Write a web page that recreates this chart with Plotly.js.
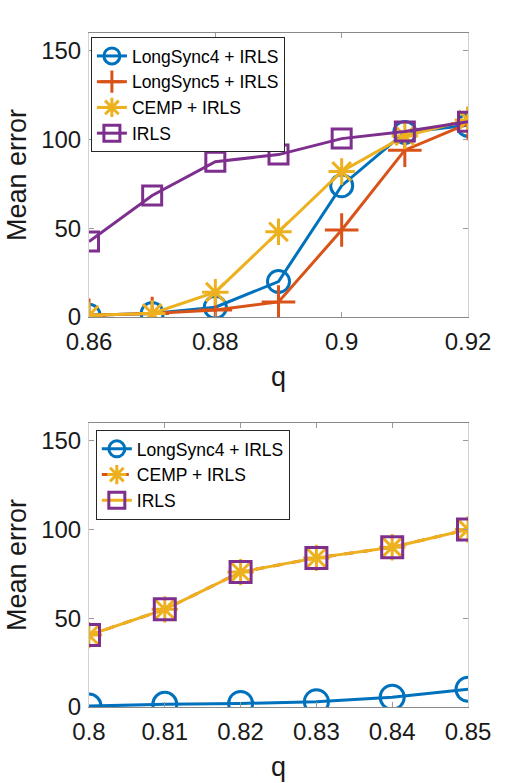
<!DOCTYPE html>
<html>
<head>
<meta charset="utf-8">
<script src="https://cdn.plot.ly/plotly-3.0.1.min.js"></script>
<style>html,body{margin:0;padding:0;background:#fff;}#chart{width:523px;height:783px;}</style>
</head>
<body>
<div id="chart"></div>
<script>
// ---- Top panel data ----
const qTop = [0.86, 0.87, 0.88, 0.89, 0.90, 0.91, 0.92];
const topLongSync4 = [1, 2, 5.5, 20, 74, 104, 108];
const topLongSync5 = [1, 2, 4, 8.5, 49, 94, 109];
const topCEMP = [1, 2, 14, 48, 82, 102, 111];
const topIRLS = [42.5, 68.5, 87.5, 91.5, 100.5, 104.5, 110];
const topTickVals = [0.86, 0.88, 0.90, 0.92];
const topTickText = ["0.86", "0.88", "0.9", "0.92"];

// ---- Bottom panel data ----
const qBot = [0.80, 0.81, 0.82, 0.83, 0.84, 0.85];
const botLongSync4 = [0.5, 1.5, 2, 3, 5.5, 10];
const botCEMP = [40.5, 55, 76, 84, 90, 100];
const botIRLS = [40.5, 55, 76, 84, 90, 100];
const botTickVals = [0.80, 0.81, 0.82, 0.83, 0.84, 0.85];
const botTickText = ["0.8", "0.81", "0.82", "0.83", "0.84", "0.85"];

const yTickVals = [0, 50, 100, 150];
const names = ["LongSync4 + IRLS", "LongSync5 + IRLS", "CEMP + IRLS", "IRLS"];

const BLUE = "#0072BD", ORANGE = "#D95319", YELLOW = "#EDB120", PURPLE = "#7E2F8E";
const FONT = "Liberation Sans, Arial, Helvetica, sans-serif";

function tr(x, y, name, lineColor, sym, mColor, msize, xa, ya, leg, dash) {
  return {
    x: x, y: y, name: name, type: "scatter", mode: "lines+markers",
    xaxis: xa, yaxis: ya, legend: leg,
    line: {color: lineColor, width: 3, dash: dash || "solid"},
    marker: {symbol: sym, size: msize, color: mColor, line: {color: mColor, width: 3}},
    hoverinfo: "skip"
  };
}

const data = [
  tr(qTop, topLongSync4, names[0], BLUE, "circle-open", BLUE, 22, "x", "y", "legend"),
  tr(qTop, topLongSync5, names[1], ORANGE, "cross-thin-open", ORANGE, 24, "x", "y", "legend"),
  tr(qTop, topCEMP, names[2], YELLOW, "asterisk-open", YELLOW, 22, "x", "y", "legend"),
  tr(qTop, topIRLS, names[3], PURPLE, "square-open", PURPLE, 19, "x", "y", "legend"),
  tr(qBot, botLongSync4, names[0], BLUE, "circle-open", BLUE, 24, "x2", "y2", "legend2"),
  tr(qBot, botCEMP, names[2], ORANGE, "asterisk-open", YELLOW, 22, "x2", "y2", "legend2", "dash"),
  tr(qBot, botIRLS, names[3], YELLOW, "square-open", PURPLE, 21, "x2", "y2", "legend2")
];

function xax(range, tv, tt, anchor) {
  return {
    range: range, tickvals: tv, ticktext: tt, anchor: anchor,
    showgrid: false, zeroline: false, showline: true, mirror: "allticks",
    linecolor: "#8a8a8a", linewidth: 1, ticks: "inside", ticklen: 5, tickcolor: "#9a9a9a",
    ticklabelstandoff: 3,
    tickfont: {family: FONT, size: 24, color: "#1a1a1a"},
    title: {text: "q", font: {family: FONT, size: 27, color: "#1a1a1a"}, standoff: 13},
    automargin: false, fixedrange: true
  };
}
function yax(domain, anchor) {
  return {
    domain: domain, range: [0, 160], tickvals: yTickVals, anchor: anchor,
    showgrid: false, zeroline: false, showline: true, mirror: "allticks",
    linecolor: "#d2d2d2", linewidth: 1, ticks: "inside", ticklen: 5, tickcolor: "#9a9a9a",
    ticklabelstandoff: 2,
    tickfont: {family: FONT, size: 24, color: "#1a1a1a"},
    title: {text: "Mean error", font: {family: FONT, size: 27, color: "#1a1a1a"}, standoff: 6},
    automargin: false, fixedrange: true
  };
}

const legendBase = {
  bgcolor: "#ffffff", bordercolor: "#262626", borderwidth: 1,
  font: {family: FONT, size: 17.5, color: "#000"},
  xanchor: "left", yanchor: "top", xref: "paper", yref: "paper",
  tracegroupgap: 0, itemwidth: 30
};

const layout = {
  width: 523, height: 783,
  margin: {l: 89, r: 55, t: 33, b: 76},
  paper_bgcolor: "#ffffff", plot_bgcolor: "#ffffff",
  font: {family: FONT},
  showlegend: true,
  xaxis: xax([0.86, 0.92], topTickVals, topTickText, "y"),
  yaxis: yax([0.5786, 1], "x"),
  xaxis2: xax([0.80, 0.85], botTickVals, botTickText, "y2"),
  yaxis2: yax([0, 0.4214], "x2"),
  legend: Object.assign({}, legendBase, {x: 0.005, y: 0.994}),
  legend2: Object.assign({}, legendBase, {x: 0.018, y: 0.411})
};

Plotly.newPlot("chart", data, layout, {staticPlot: true, displayModeBar: false});
</script>
</body>
</html>
